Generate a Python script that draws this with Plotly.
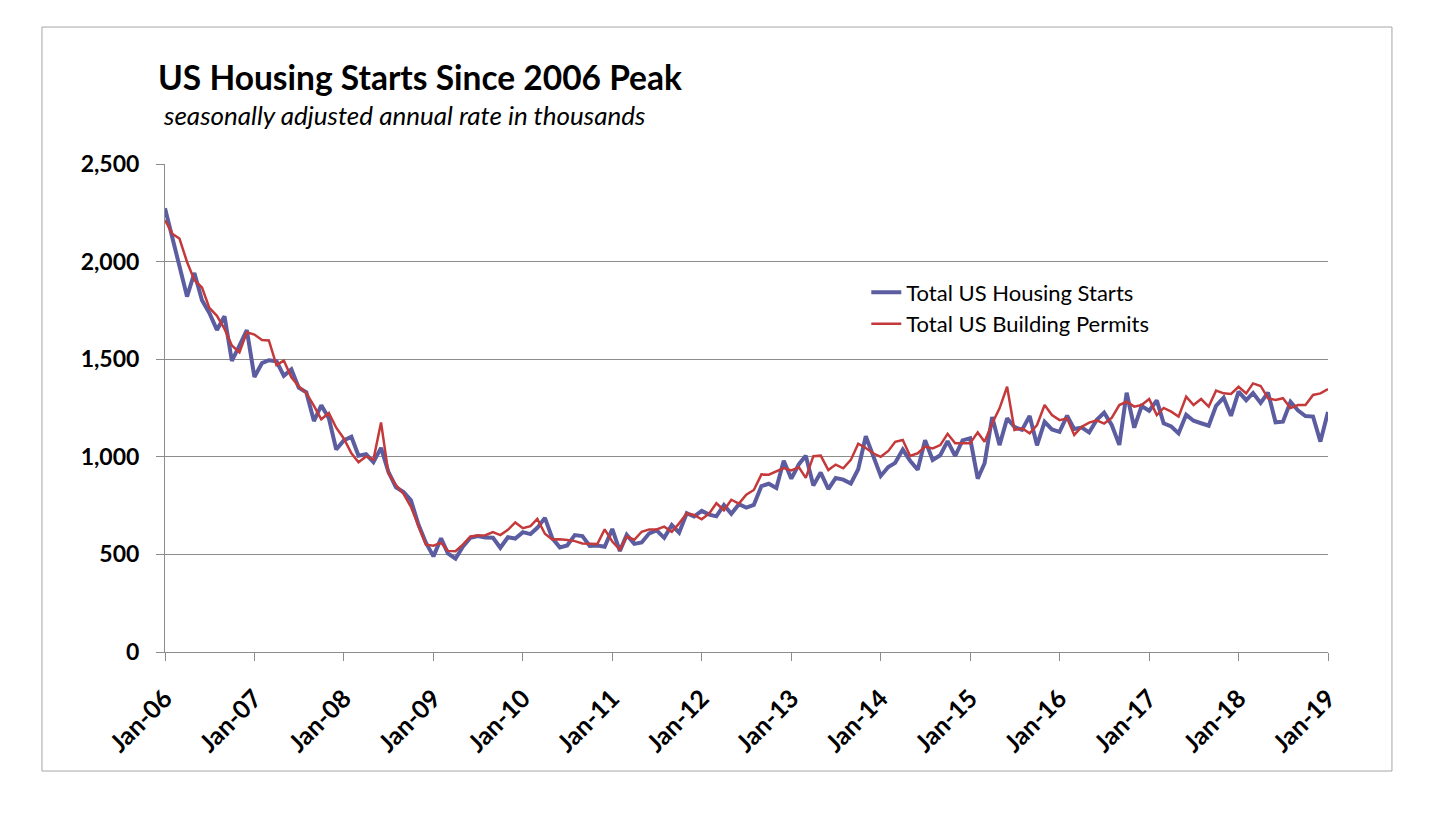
import pandas as pd
import plotly.graph_objects as go

# monthly, Jan 2006 .. Jan 2019 (SAAR, thousands)
months = pd.date_range("2006-01-01", periods=157, freq="MS")

housing_starts = [
    2273, 2119, 1969, 1821, 1942, 1802, 1737, 1650, 1720, 1491, 1570, 1649,  # 2006
    1409, 1480, 1495, 1490, 1415, 1448, 1354, 1330, 1183, 1264, 1197, 1037,  # 2007
    1084, 1103, 1005, 1013, 973, 1046, 923, 844, 820, 777, 652, 560,  # 2008
    490, 582, 505, 478, 540, 585, 594, 586, 585, 534, 588, 581,  # 2009
    614, 604, 636, 687, 583, 536, 546, 599, 594, 543, 545, 539,  # 2010
    630, 517, 600, 554, 561, 608, 623, 585, 650, 611, 711, 694,  # 2011
    723, 704, 695, 753, 708, 757, 740, 754, 850, 862, 840, 980,  # 2012
    888, 962, 1005, 853, 919, 835, 891, 883, 863, 936, 1105, 1003,  # 2013
    902, 948, 969, 1037, 980, 934, 1085, 984, 1008, 1080, 1004, 1084,  # 2014
    1095, 888, 967, 1204, 1060, 1197, 1153, 1138, 1209, 1059, 1179, 1140,  # 2015
    1128, 1211, 1142, 1150, 1125, 1190, 1226, 1163, 1061, 1328, 1149, 1260,  # 2016
    1236, 1289, 1172, 1155, 1120, 1215, 1185, 1172, 1159, 1261, 1303, 1210,  # 2017
    1334, 1290, 1327, 1276, 1329, 1177, 1180, 1282, 1237, 1209, 1206, 1078,  # 2018
    1230,  # 2019
]

building_permits = [
    2212, 2141, 2118, 1998, 1905, 1867, 1763, 1722, 1655, 1570, 1535, 1638,  # 2006
    1626, 1598, 1596, 1470, 1493, 1407, 1361, 1326, 1261, 1192, 1224, 1149,  # 2007
    1094, 1018, 972, 1002, 986, 1176, 915, 855, 810, 744, 645, 550,  # 2008
    545, 560, 518, 516, 550, 592, 597, 598, 614, 599, 626, 664,  # 2009
    634, 645, 682, 606, 577, 578, 574, 568, 556, 553, 553, 628,  # 2010
    566, 525, 591, 575, 616, 628, 628, 642, 616, 659, 710, 702,  # 2011
    680, 710, 762, 726, 780, 760, 806, 830, 910, 908, 926, 942,  # 2012
    930, 946, 892, 1003, 1006, 932, 960, 941, 984, 1067, 1045, 1018,  # 2013
    1000, 1030, 1077, 1086, 1004, 1018, 1052, 1043, 1060, 1118, 1069, 1069,  # 2014
    1069, 1125, 1077, 1171, 1248, 1359, 1137, 1146, 1120, 1163, 1265, 1214,  # 2015
    1188, 1197, 1112, 1154, 1175, 1187, 1170, 1199, 1265, 1282, 1257, 1265,  # 2016
    1296, 1214, 1250, 1231, 1206, 1308, 1265, 1296, 1257, 1339, 1325, 1322,  # 2017
    1359, 1325, 1376, 1363, 1300, 1291, 1300, 1250, 1265, 1265, 1317, 1325,  # 2018
    1347,  # 2019
]

tick_dates = pd.date_range("2006-01-01", "2019-01-01", freq="YS")
tick_labels = [d.strftime("%b-%y") for d in tick_dates]
y_ticks = [0, 500, 1000, 1500, 2000, 2500]

font = "Lato"
grid = "#8C8C8C"

fig = go.Figure()
fig.add_trace(
    go.Scatter(
        name="Total US Housing Starts",
        x=months,
        y=housing_starts,
        mode="lines",
        line={"color": "#5B5DA0", "width": 4},
    )
)
fig.add_trace(
    go.Scatter(
        name="Total US Building Permits",
        x=months,
        y=building_permits,
        mode="lines",
        line={"color": "#C4393A", "width": 2.5},
    )
)

fig.update_layout(
    width=1440,
    height=813,
    margin={"l": 165, "r": 112, "t": 164, "b": 161},
    paper_bgcolor="white",
    plot_bgcolor="white",
    font={"family": font, "color": "black"},
    showlegend=True,
    legend={
        "x": 0.603,
        "y": 0.78,
        "xanchor": "left",
        "yanchor": "top",
        "bgcolor": "rgba(0,0,0,0)",
        "font": {"size": 22, "family": font},
    },
    annotations=[
        {
            "text": "US Housing Starts Since 2006 Peak",
            "xref": "paper", "yref": "paper",
            "x": -0.0075, "y": 1.178,
            "xanchor": "left", "yanchor": "middle",
            "showarrow": False,
            "font": {"size": 33.5, "family": font, "weight": "bold"},
        },
        {
            "text": "<i>seasonally adjusted annual rate in thousands</i>",
            "xref": "paper", "yref": "paper",
            "x": -0.0035, "y": 1.100,
            "xanchor": "left", "yanchor": "middle",
            "showarrow": False,
            "font": {"size": 26, "family": font},
        },
    ],
    shapes=[
        {
            "type": "rect",
            "xref": "paper", "yref": "paper",
            "x0": -0.1058, "x1": 1.055,
            "y0": -0.2439, "y1": 1.2807,
            "line": {"color": "#A6A6A6", "width": 1},
            "layer": "below",
        }
    ],
)

fig.update_xaxes(
    range=[months[0], months[-1]],
    tickvals=tick_dates,
    ticktext=tick_labels,
    tickangle=-45,
    ticks="outside",
    ticklen=8,
    tickcolor=grid,
    showline=True,
    linecolor=grid,
    linewidth=1,
    showgrid=False,
    zeroline=False,
    ticklabelstandoff=13,
    tickfont={"size": 25, "family": font, "weight": "bold"},
)
fig.update_yaxes(
    range=[0, 2500],
    tickvals=y_ticks,
    tickformat=",",
    ticks="outside",
    ticklen=8,
    tickcolor=grid,
    showline=True,
    linecolor=grid,
    linewidth=1,
    showgrid=True,
    gridcolor=grid,
    gridwidth=1,
    zeroline=False,
    ticklabelstandoff=12,
    tickfont={"size": 23, "family": font, "weight": "bold"},
)

fig.write_html(
    "out.html",
    config={"displayModeBar": False},
    post_script="document.body.style.margin='0';",
)
